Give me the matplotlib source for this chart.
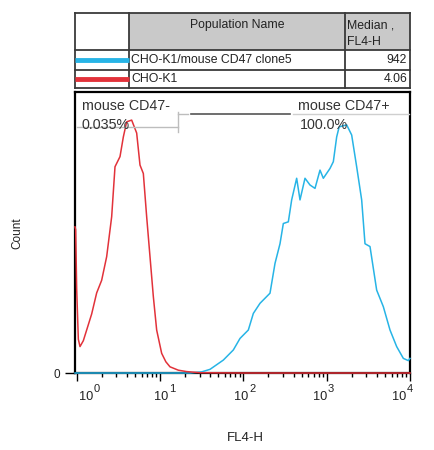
import matplotlib
matplotlib.use('Agg')
import matplotlib.pyplot as plt
import numpy as np
from matplotlib.patches import Rectangle
from matplotlib.transforms import blended_transform_factory, offset_copy

plt.rcParams['font.family'] = ['Liberation Sans', 'DejaVu Sans']

# histogram outlines (log10 FL4-H, count as % of axis)
red_logx = [-0.02, -0.012, 0.0, 0.02, 0.04, 0.08, 0.12, 0.18, 0.24, 0.30, 0.36,
            0.42, 0.46, 0.52, 0.56, 0.60, 0.66, 0.72, 0.76, 0.80, 0.84, 0.88,
            0.92, 0.96, 1.02, 1.07, 1.12, 1.22, 1.32, 1.48, 2.0, 3.0, 4.0]
red_count = [52, 51, 30, 12, 9.4, 11.5, 15.3, 21, 28.5, 33, 41.4,
             55.6, 73.4, 77, 84, 89.4, 90, 85.4, 74, 71, 55.6, 41.4,
             27.2, 15.3, 7, 4, 2.2, 1.0, 0.5, 0.1, 0, 0, 0]

cyan_logx = [-0.02, 0.5, 1.0, 1.36, 1.50, 1.60, 1.76, 1.88, 1.96, 2.06, 2.12, 2.20,
             2.32, 2.38, 2.44, 2.48, 2.54, 2.58, 2.64, 2.68, 2.74, 2.80, 2.86,
             2.92, 2.96, 3.04, 3.08, 3.12, 3.15, 3.24, 3.30, 3.36, 3.42, 3.46,
             3.52, 3.60, 3.68, 3.76, 3.84, 3.92, 3.98, 4.0]
cyan_count = [0, 0, 0, 0, 0.4, 1.3, 4.6, 8.2, 12.3, 15.3, 21.2, 24.8,
              28.4, 39, 46, 53.2, 53.8, 61.6, 69.3, 61.6, 69.3, 66.9, 65.7,
              72.2, 69.3, 72.8, 75.2, 84, 87.6, 88.3, 84.7, 73.4, 61.6, 46,
              45, 29.5, 23.6, 15.3, 9.4, 5.2, 4.4, 5.2]

decades = [0, 1, 2, 3, 4]
populations = ['CHO-K1/mouse CD47 clone5', 'CHO-K1']
medians = ['942', '4.06']
pop_colors = ['#27b4e6', '#e2323a']
gate_names = ['mouse CD47-', 'mouse CD47+']
gate_pcts = ['0.035%', '100.0%']

W, H = 434, 450
fig = plt.figure(figsize=(W / 100, H / 100), dpi=100)

# main histogram axes
L, R, T, B = 75, 410, 92, 373
ax = fig.add_axes([L / W, 1 - B / H, (R - L) / W, (B - T) / H])
ax.plot(10 ** np.array(cyan_logx), cyan_count, color=pop_colors[0], lw=1.1, clip_on=False, zorder=3)
ax.plot(10 ** np.array(red_logx), red_count, color=pop_colors[1], lw=1.1, clip_on=False, zorder=3)
ax.set_xscale('log')
ax.set_xlim(10 ** -0.02, 10 ** 4)
ax.set_ylim(0, 100)
ax.set_yticks([0])
ax.set_yticklabels(['0'])
ax.set_xticks([10 ** d for d in decades])
ax.set_xticklabels([])
for s in ax.spines.values():
    s.set_linewidth(1.6)
    s.set_color('black')
ax.tick_params(axis='x', which='major', direction='out', length=6, width=1)
ax.tick_params(axis='x', which='minor', direction='out', length=3, width=1)
ax.tick_params(axis='y', which='major', direction='out', length=7, width=1, labelsize=8.5, pad=4,
               labelcolor='#222222')

# decade labels "10" with raised exponent, placed by hand under each tick
xlab_shift = [9, 1, -2, -7, -11]   # px nudges seen in the picture
trans = blended_transform_factory(ax.transData, ax.transAxes)
for d, dx in zip(decades, xlab_shift):
    t0 = offset_copy(trans, fig=fig, x=dx * 0.72, y=0, units='points')
    ax.text(10 ** d, (B - 397.5) / (B - T), '10', transform=t0, ha='center', va='center',
            fontsize=9.2, color='#222222', clip_on=False)
    t1 = offset_copy(trans, fig=fig, x=(dx + 8) * 0.72, y=0, units='points')
    ax.text(10 ** d, (B - 388.5) / (B - T), str(d), transform=t1, ha='left', va='center',
            fontsize=8, color='#222222', clip_on=False)

ax.set_xlabel('FL4-H', fontsize=9.5, color='#222222')
ax.xaxis.set_label_coords((245 - L) / (R - L), (B - 432) / (B - T))
fig.text(17 / W, 1 - 233 / H, 'Count', rotation=90, ha='center', va='center', fontsize=8.5, color='#222222')

# overlay in pixel coordinates for table and gate labels
ov = fig.add_axes([0, 0, 1, 1], zorder=5)
ov.set_xlim(0, W)
ov.set_ylim(H, 0)
ov.axis('off')
ov.patch.set_alpha(0)

# table
tx = [75, 129, 345, 410]
ty = [13, 50, 70, 88]
fs_tab = 8.8
ov.add_patch(Rectangle((tx[1], ty[0]), tx[3] - tx[1], ty[1] - ty[0], facecolor='#c9c9c9', edgecolor='none'))
for yy in ty:
    ov.plot([tx[0], tx[3]], [yy, yy], color='#3a3a3a', lw=1.3)
for xx in tx:
    ov.plot([xx, xx], [ty[0], ty[3]], color='#3a3a3a', lw=1.3)
ov.text((tx[1] + tx[2]) / 2, 25, 'Population Name', ha='center', va='center', fontsize=fs_tab, color='#222222')
ov.text(tx[2] + 2, 25, 'Median ,', ha='left', va='center', fontsize=fs_tab, color='#222222')
ov.text(tx[2] + 2, 42, 'FL4-H', ha='left', va='center', fontsize=fs_tab, color='#222222')
for i, (name, med, col) in enumerate(zip(populations, medians, pop_colors)):
    yc = (ty[i + 1] + ty[i + 2]) / 2
    ov.plot([tx[0], tx[1]], [yc, yc], color=col, lw=3.5, solid_capstyle='butt')
    ov.text(tx[1] + 2, yc, name, ha='left', va='center', fontsize=fs_tab, color='#222222')
    ov.text(tx[3] - 3, yc, med, ha='right', va='center', fontsize=fs_tab, color='#222222')

# gate markers
ov.plot([77, 178], [127, 127], color='#bdbdbd', lw=1)
ov.plot([178, 178], [112, 132], color='#bdbdbd', lw=1)
ov.plot([178, 188], [114, 114], color='#bdbdbd', lw=1)
ov.plot([191, 290], [114, 114], color='#555555', lw=1.2)
ov.plot([293, 409], [114, 114], color='#cfcfcf', lw=1)
fs_gate = 10.3
ov.text(82, 106, gate_names[0], ha='left', va='center', fontsize=fs_gate, color='#333333')
ov.text(82, 125, gate_pcts[0], ha='left', va='center', fontsize=fs_gate, color='#333333')
ov.text(298, 106, gate_names[1], ha='left', va='center', fontsize=fs_gate, color='#333333')
ov.text(300, 125, gate_pcts[1], ha='left', va='center', fontsize=fs_gate, color='#333333')

fig.savefig('out.png', dpi=100)
